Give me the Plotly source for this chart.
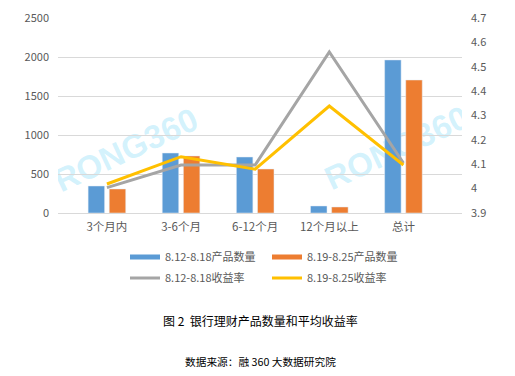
import plotly.graph_objects as go

categories = ["3个月内", "3-6个月", "6-12个月", "12个月以上", "总计"]
count_w1 = [346, 769, 718, 90, 1962]
count_w2 = [308, 731, 564, 77, 1705]
yield_w1 = [4.004, 4.097, 4.097, 4.561, 4.105]
yield_w2 = [4.019, 4.131, 4.080, 4.339, 4.097]
name_cw1 = "8.12-8.18产品数量"
name_cw2 = "8.19-8.25产品数量"
name_yw1 = "8.12-8.18收益率"
name_yw2 = "8.19-8.25收益率"
left_ticks = [0, 500, 1000, 1500, 2000, 2500]
right_ticks = [3.9, 4.0, 4.1, 4.2, 4.3, 4.4, 4.5, 4.6, 4.7]
right_labels = ["3.9", "4", "4.1", "4.2", "4.3", "4.4", "4.5", "4.6", "4.7"]

BLUE = "#5b9bd5"
ORANGE = "#ed7d31"
GRAY = "#a5a5a5"
YELLOW = "#ffc000"
FONT = "Noto Sans CJK SC"
TXT = "#595959"

fig = go.Figure()
fig.add_trace(go.Bar(x=categories, y=count_w1, name=name_cw1, marker_color=BLUE, showlegend=False))
fig.add_trace(go.Bar(x=categories, y=count_w2, name=name_cw2, marker_color=ORANGE, showlegend=False))
fig.add_trace(go.Scatter(x=categories, y=yield_w1, name=name_yw1, mode="lines",
                         line=dict(color=GRAY, width=3), yaxis="y2", showlegend=False))
fig.add_trace(go.Scatter(x=categories, y=yield_w2, name=name_yw2, mode="lines",
                         line=dict(color=YELLOW, width=3), yaxis="y2", showlegend=False))

# legend-only entries (line-style keys as in the reference), two rows of two
for nm, col, w, lg in [(name_cw1, BLUE, 5, "legend"), (name_cw2, ORANGE, 5, "legend"),
                       (name_yw1, GRAY, 3, "legend2"), (name_yw2, YELLOW, 3, "legend2")]:
    fig.add_trace(go.Scatter(x=[None], y=[None], mode="lines", name=nm, legend=lg,
                             line=dict(color=col, width=w), showlegend=True))

leg_common = dict(orientation="h", xanchor="left", yanchor="middle",
                  entrywidth=97, entrywidthmode="pixels", itemwidth=30,
                  font=dict(size=11, color=TXT), bgcolor="rgba(0,0,0,0)")

fig.update_layout(
    width=515, height=376,
    margin=dict(l=58, r=53, t=18, b=163, autoexpand=False),
    paper_bgcolor="white", plot_bgcolor="white",
    font=dict(family=FONT, size=11, color=TXT),
    barmode="group", bargap=0.43, bargroupgap=0.22,
    xaxis=dict(showgrid=False, showline=True, linecolor="#d9d9d9", ticks="",
               ticklabelstandoff=3, tickfont=dict(size=11.5, color=TXT), automargin=False),
    yaxis=dict(range=[0, 2500], tickvals=left_ticks, showgrid=True, gridcolor="#d9d9d9",
               zeroline=False, ticks="", ticklabelstandoff=8,
               tickfont=dict(size=11, color=TXT), automargin=False),
    yaxis2=dict(range=[3.9, 4.7], overlaying="y", side="right", tickvals=right_ticks,
                ticktext=right_labels, showgrid=False, zeroline=False, ticks="",
                ticklabelstandoff=8, tickfont=dict(size=11, color=TXT), automargin=False),
    legend=dict(x=(125 - 58) / 404, y=(213 - 257) / 195, **leg_common),
    legend2=dict(x=(125 - 58) / 404, y=(213 - 278) / 195, **leg_common),
    showlegend=True,
)

# watermarks drawn beneath the bars
for cx, cy in [(0.24, 846), (3.89, 872)]:
    fig.add_shape(type="rect", xref="x", yref="y", x0=cx - 0.9, x1=cx + 0.9, y0=cy - 400, y1=cy + 400,
                  layer="below", line=dict(width=0), fillcolor="rgba(0,0,0,0)",
                  label=dict(text="<b>RONG360</b>", textangle=-25, textposition="middle center",
                             font=dict(family="Liberation Sans", size=33, color="rgba(120,215,248,0.33)")))

fig.add_annotation(text="图 2  银行理财产品数量和平均收益率", x=0.5, y=(213 - 320) / 195,
                   xref="paper", yref="paper", yanchor="middle", showarrow=False,
                   font=dict(family=FONT, size=12, color="#000000"))
fig.add_annotation(text="数据来源：融 360 大数据研究院", x=0.5, y=(213 - 361) / 195,
                   xref="paper", yref="paper", yanchor="middle", showarrow=False,
                   font=dict(family=FONT, size=10.7, color="#000000"))

fig.write_html("out.html", config={"displayModeBar": False},
               post_script="document.body.style.margin='0';")
